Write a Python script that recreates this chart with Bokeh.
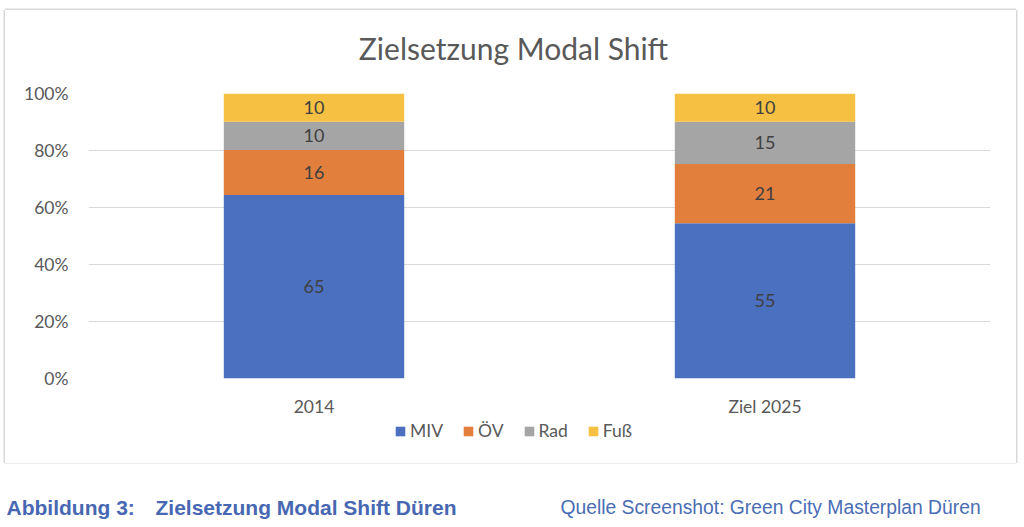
from bokeh.plotting import figure
from bokeh.models import (FactorRange, Range1d, ColumnDataSource, Legend, LegendItem,
                          FixedTicker, NumeralTickFormatter)
from bokeh.core.properties import value
from bokeh.embed import file_html
from bokeh.resources import INLINE

# ---- data ----
categories = ["2014", "Ziel 2025"]
series = ["MIV", "ÖV", "Rad", "Fuß"]
miv = [65, 55]
oev = [16, 21]
rad = [10, 15]
fuss = [10, 10]
colors = ["#4A70BF", "#E27F3D", "#A5A5A5", "#F6C142"]
y_ticks = [0, 0.2, 0.4, 0.6, 0.8, 1.0]
title_text = "Zielsetzung Modal Shift"
caption_left_a = "Abbildung 3:"
caption_left_b = "Zielsetzung Modal Shift Düren"
caption_right = "Quelle Screenshot: Green City Masterplan Düren"

values = [miv, oev, rad, fuss]
totals = [sum(v[i] for v in values) for i in range(len(categories))]

data = {"cat": categories}
for name, vals in zip(series, values):
    data[name] = [vals[i] / totals[i] for i in range(len(categories))]
src = ColumnDataSource(data)

# label positions (segment mid-points)
lx, ly, lt = [], [], []
for i, c in enumerate(categories):
    base = 0.0
    for vals in values:
        frac = vals[i] / totals[i]
        lx.append(c)
        ly.append(base + frac / 2)
        lt.append(str(vals[i]))
        base += frac
lab_src = ColumnDataSource(dict(x=lx, y=ly, t=lt))

FONT = "Lato"
GRAY = "#595959"
FS = "17.5px"
BORDER = "#D9D9D9"

# ---- title strip (top of the bordered box) ----
ttl = figure(width=1011, height=60, x_range=Range1d(0, 1011), y_range=Range1d(60, 0),
             output_backend="svg", toolbar_location=None, min_border=0,
             x_axis_location=None, y_axis_location=None)
ttl.styles = {"margin-left": "5px", "margin-top": "10px",
              "box-shadow": f"-1.5px 0 0 0 {BORDER}, 1.5px 0 0 0 {BORDER}, 0 -1.5px 0 0 {BORDER}"}
ttl.grid.visible = False
ttl.outline_line_color = None
ttl.text(x=[508], y=[37], text=[title_text], text_align="center",
         text_baseline="middle", text_font=value(FONT), text_font_size="30px",
         text_color=GRAY)

# ---- main chart ----
p = figure(width=1011, height=349, x_range=FactorRange(*categories),
           y_range=Range1d(0, 1), output_backend="svg", toolbar_location=None,
           min_border_left=83, min_border_right=26, min_border_top=23,
           min_border_bottom=39)
p.styles = {"margin-left": "5px",
            "box-shadow": f"-1.5px 0 0 0 {BORDER}, 1.5px 0 0 0 {BORDER}"}
p.outline_line_color = None
p.background_fill_color = "white"
p.border_fill_color = "white"

rs = p.vbar_stack(series, x="cat", width=0.4, color=colors, source=src, line_width=0)

p.text(x="x", y="y", text="t", source=lab_src, text_align="center",
       text_baseline="middle", text_font=value(FONT), text_font_size="18px",
       text_color="#404040")

p.xgrid.grid_line_color = None
p.ygrid.grid_line_color = BORDER
p.ygrid.grid_line_width = 1
p.yaxis.ticker = FixedTicker(ticks=y_ticks)
p.yaxis.formatter = NumeralTickFormatter(format="0%")

for ax in (p.xaxis[0], p.yaxis[0]):
    ax.axis_line_color = None
    ax.major_tick_line_color = None
    ax.minor_tick_line_color = None
    ax.major_tick_in = 0
    ax.major_tick_out = 0
    ax.major_label_text_font = FONT
    ax.major_label_text_font_size = FS
    ax.major_label_text_color = GRAY
p.yaxis.major_label_standoff = 20
p.xaxis.major_label_standoff = 17

# ---- legend strip (inside the same bordered box) ----
leg = figure(width=1011, height=44, x_range=FactorRange(*categories), y_range=Range1d(0, 1),
             output_backend="svg", toolbar_location=None,
             min_border=0, x_axis_location=None, y_axis_location=None)
leg.styles = {"margin-left": "5px",
              "box-shadow": f"-1.5px 0 0 0 {BORDER}, 1.5px 0 0 0 {BORDER}, 0 1.5px 0 0 {BORDER}"}
leg.grid.visible = False
leg.outline_line_color = None
leg_rs = leg.vbar_stack(series, x="cat", width=0.4, color=colors, source=src,
                        line_width=0, visible=False)
legend = Legend(items=[LegendItem(label=s, renderers=[r]) for s, r in zip(series, leg_rs)],
                orientation="horizontal", location=(389, 22),
                glyph_width=12, glyph_height=12, label_standoff=4, spacing=19,
                label_text_font=FONT, label_text_font_size=FS,
                label_text_color=GRAY, padding=0, margin=0,
                border_line_color=None, background_fill_alpha=0,
                inactive_fill_alpha=0)
leg.add_layout(legend)

# ---- caption strip ----
cap = figure(width=1016, height=60, x_range=Range1d(0, 1016), y_range=Range1d(60, 0),
             output_backend="svg", toolbar_location=None, min_border=0,
             x_axis_location=None, y_axis_location=None)
cap.grid.visible = False
cap.outline_line_color = None
CAP = "#4767B3"
cap.text(x=[6], y=[44], text=[caption_left_a], text_baseline="middle",
         text_font=value("Liberation Sans"), text_font_style="bold",
         text_font_size="21px", text_color=CAP)
cap.text(x=[155], y=[44], text=[caption_left_b], text_baseline="middle",
         text_font=value("Liberation Sans"), text_font_style="bold",
         text_font_size="21px", text_color=CAP)
cap.text(x=[560], y=[44], text=[caption_right], text_baseline="middle",
         text_font=value("Liberation Sans"),
         text_font_size="19.3px", text_color="#4A6DB5")

open("out.html", "w").write(file_html([ttl, p, leg, cap], INLINE))
